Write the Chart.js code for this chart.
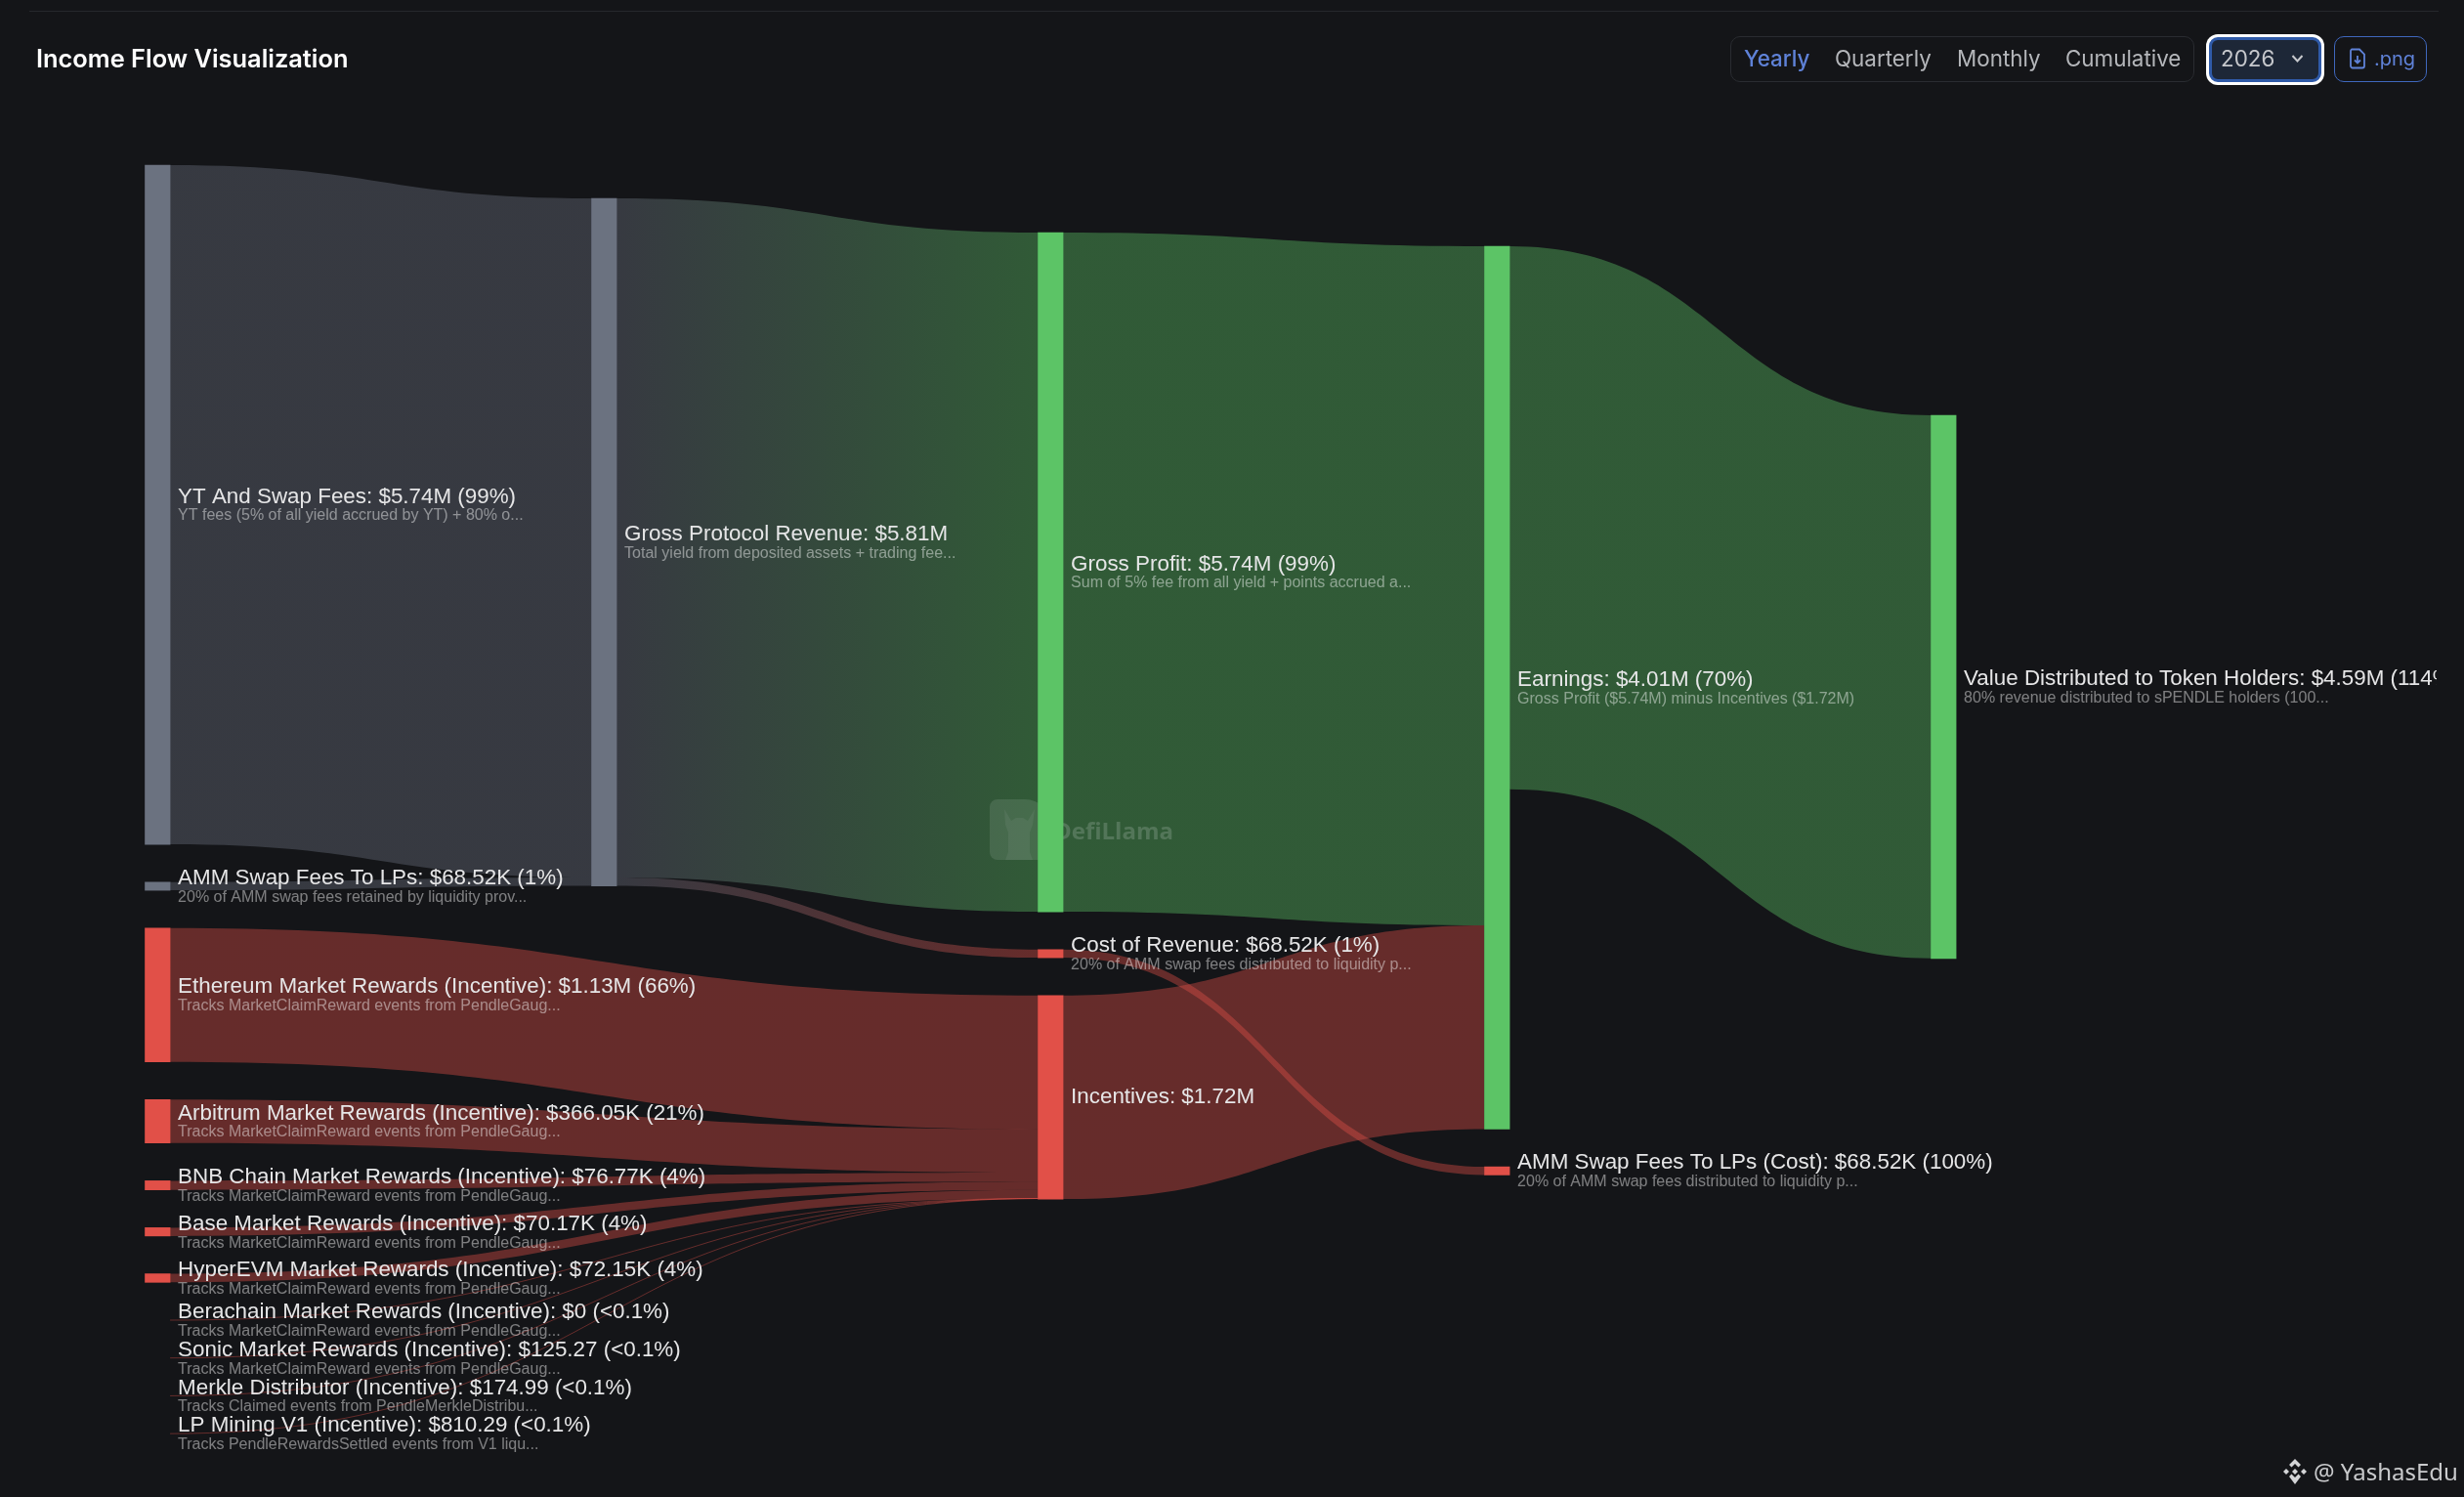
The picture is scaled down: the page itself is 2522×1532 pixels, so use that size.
<!DOCTYPE html>
<html lang="en">
<head>
<meta charset="utf-8">
<title>Income Flow Visualization</title>
<script src="https://cdn.jsdelivr.net/npm/chart.js@4"></script>
<style>
html,body{margin:0;padding:0;background:#141518;width:2522px;height:1532px;overflow:hidden}
#wrap{position:absolute;left:0;top:0;width:2494px;height:1532px}
.abs{position:absolute;white-space:nowrap;font-family:Inter,sans-serif}
#rule{left:30px;top:11px;width:2466px;height:1px;background:#26282c}
#title{left:37px;top:43px;font-size:25.4px;line-height:34px;font-weight:600;color:#fff}
#tabs{left:1771px;top:37px;width:473px;height:45px;border:1px solid #2a2c31;border-radius:10px}
.tab{top:43px;font-size:22.4px;line-height:34px;color:#b4b6ba}
#yr{left:2261px;top:38px;width:115px;height:46px;box-sizing:border-box;background:#1d2737;border-radius:9px;border:3px solid #2f5aa8;box-shadow:0 0 0 3px #fff}
#yrt{left:2273px;top:43px;font-size:22.4px;line-height:34px;color:#c6c8cc}
#png{left:2389px;top:37px;width:93px;height:45px;border:1px solid #3f67bd;border-radius:10px}
#pngt{left:2430px;top:43px;font-size:20px;line-height:34px;color:#5f82d8}
#yas{left:2368px;top:1486px;font-family:"Noto Sans",sans-serif;font-size:24px;line-height:40px;color:#c9cacc}
svg{position:absolute}
</style>
</head>
<body>
<div id="wrap"><canvas id="c" width="2494" height="1532" style="display:block"></canvas></div>
<div class="abs" id="rule"></div>
<div class="abs" id="title">Income Flow Visualization</div>
<div class="abs" id="tabs"></div>
<div class="abs tab" style="left:1785px;color:#5f82d8;font-weight:500">Yearly</div>
<div class="abs tab" style="left:1878px">Quarterly</div>
<div class="abs tab" style="left:2003px">Monthly</div>
<div class="abs tab" style="left:2114px">Cumulative</div>
<div class="abs" id="yr"></div>
<div class="abs" id="yrt">2026</div>
<svg style="left:2344px;top:53px" width="15" height="14" viewBox="0 0 15 14"><path d="M2.5 4 L7.5 9.5 L12.5 4" fill="none" stroke="#c6c8cc" stroke-width="2"/></svg>
<div class="abs" id="png"></div>
<svg style="left:2404px;top:49px" width="18" height="22" viewBox="0 0 18 22" fill="none" stroke="#5f82d8" stroke-width="1.8"><path d="M3 1.500h8l5 5v12a2 2 0 0 1-2 2H4a2 2 0 0 1-2-2v-15a2 2 0 0 1 1-2z"/><path d="M9 8v7M6 12.500l3 3 3-3"/></svg>
<div class="abs" id="pngt">.png</div>
<svg style="left:2335px;top:1493px" width="28" height="26" viewBox="0 0 28 26" fill="#d4d5d7"><path d="M14 0l6 6-2.500 2.500L14 5l-3.500 3.500L8 6z"/><path d="M5 10l3 3-3 3-3-3z"/><path d="M23 10l3 3-3 3-3-3z"/><path d="M14 10l3 3-3 3-3-3z"/><path d="M8 18l2.500-2.500L14 19l3.500-3.500L20 18l-6 8z"/></svg>
<div class="abs" id="yas">@ YashasEdu</div>

<script>
// ---- data ----
const columns = ["Revenue sources", "Revenue", "Gross profit", "Earnings", "Distribution"];

const nodeNames = [
  "YT And Swap Fees", "AMM Swap Fees To LPs", "Ethereum Market Rewards (Incentive)",
  "Arbitrum Market Rewards (Incentive)", "BNB Chain Market Rewards (Incentive)",
  "Base Market Rewards (Incentive)", "HyperEVM Market Rewards (Incentive)",
  "Berachain Market Rewards (Incentive)", "Sonic Market Rewards (Incentive)",
  "Merkle Distributor (Incentive)", "LP Mining V1 (Incentive)",
  "Gross Protocol Revenue", "Gross Profit", "Cost of Revenue", "Incentives",
  "Earnings", "AMM Swap Fees To LPs (Cost)", "Value Distributed to Token Holders"
];
const nodeColumn = [0,0,0,0,0,0,0,0,0,0,0, 1, 2,2,2, 3,3, 4];
const nodeValues = [
  5740000, 68520, 1130000, 366050, 76770, 70170, 72150, 0, 125.27, 174.99, 810.29,
  5810000, 5740000, 68520, 1720000,
  7460000, 68520, 4590000
];
const nodeValueText = [
  "$5.74M (99%)", "$68.52K (1%)", "$1.13M (66%)", "$366.05K (21%)", "$76.77K (4%)",
  "$70.17K (4%)", "$72.15K (4%)", "$0 (<0.1%)", "$125.27 (<0.1%)", "$174.99 (<0.1%)", "$810.29 (<0.1%)",
  "$5.81M", "$5.74M (99%)", "$68.52K (1%)", "$1.72M",
  "$4.01M (70%)", "$68.52K (100%)", "$4.59M (114%)"
];
const nodeNotes = [
  "YT fees (5% of all yield accrued by YT) + 80% o...",
  "20% of AMM swap fees retained by liquidity prov...",
  "Tracks MarketClaimReward events from PendleGaug...",
  "Tracks MarketClaimReward events from PendleGaug...",
  "Tracks MarketClaimReward events from PendleGaug...",
  "Tracks MarketClaimReward events from PendleGaug...",
  "Tracks MarketClaimReward events from PendleGaug...",
  "Tracks MarketClaimReward events from PendleGaug...",
  "Tracks MarketClaimReward events from PendleGaug...",
  "Tracks Claimed events from PendleMerkleDistribu...",
  "Tracks PendleRewardsSettled events from V1 liqu...",
  "Total yield from deposited assets + trading fee...",
  "Sum of 5% fee from all yield + points accrued a...",
  "20% of AMM swap fees distributed to liquidity p...",
  "",
  "Gross Profit ($5.74M) minus Incentives ($1.72M)",
  "20% of AMM swap fees distributed to liquidity p...",
  "80% revenue distributed to sPENDLE holders (100..."
];
const linkSource = [0,1, 2,3,4,5,6,7,8,9,10, 11,11, 12,14, 13, 15];
const linkTarget = [11,11, 14,14,14,14,14,14,14,14,14, 12,13, 15,15, 16, 17];
const linkValues = [
  5740000, 68520,
  1130000, 366050, 76770, 70170, 72150, 0, 125.27, 174.99, 810.29,
  5740000, 68520,
  5740000, 1720000, 68520, 4590000
];

// ---- styling and layout ----
const GRAY = [107,114,128], GREEN = [92,196,102], RED = [225,80,72];
const nodeColor = [GRAY,GRAY,RED,RED,RED,RED,RED,RED,RED,RED,RED, GRAY, GREEN,RED,RED, GREEN,RED, GREEN];
// colour at the end of each link (start colour is the source node)
const linkEnd = [GRAY,GRAY, RED,RED,RED,RED,RED,RED,RED,RED,RED, GREEN,RED, GREEN,RED, RED, GREEN];
const PX_PER_DOLLAR = 121.1 / 1e6;
const NODE_GAP = 38.7 / PX_PER_DOLLAR;
const COLUMN_OFFSET = [0, 34, 69, 83, 256].map(p => p / PX_PER_DOLLAR);
const NODE_W = 25.6, LINK_ALPHA = 0.4, INVISIBLE_BELOW = 1000;
const css = (c, a) => `rgba(${c[0]},${c[1]},${c[2]},${a})`;

// stack each column in value space
const nodeTop = [], nodeBottom = [];
columns.forEach((_, col) => {
  let y = COLUMN_OFFSET[col];
  nodeValues.forEach((v, i) => {
    if (nodeColumn[i] !== col) return;
    nodeTop[i] = y; nodeBottom[i] = y + v; y += v + NODE_GAP;
  });
});

const linkPlugin = {
  id: "links",
  beforeDatasetsDraw(chart) {
    const {ctx, scales:{x, y}} = chart;
    const outUsed = nodeValues.map(() => 0), inUsed = nodeValues.map(() => 0);
    linkValues.forEach((v, k) => {
      const s = linkSource[k], t = linkTarget[k];
      const x0 = x.getPixelForValue(nodeColumn[s]) + NODE_W/2;
      const x1 = x.getPixelForValue(nodeColumn[t]) - NODE_W/2;
      const mx = (x0 + x1) / 2;
      const a0 = y.getPixelForValue(nodeTop[s] + outUsed[s]);
      const a1 = y.getPixelForValue(nodeTop[s] + outUsed[s] + v);
      const b0 = y.getPixelForValue(nodeTop[t] + inUsed[t]);
      const b1 = y.getPixelForValue(nodeTop[t] + inUsed[t] + v);
      outUsed[s] += v; inUsed[t] += v;
      const g = ctx.createLinearGradient(x0, 0, x1, 0);
      g.addColorStop(0, css(nodeColor[s], LINK_ALPHA));
      g.addColorStop(1, css(linkEnd[k], LINK_ALPHA));
      ctx.save();
      ctx.beginPath();
      ctx.moveTo(x0, a0);
      ctx.bezierCurveTo(mx, a0, mx, b0, x1, b0);
      if (a1 - a0 < 1) {
        ctx.strokeStyle = g; ctx.lineWidth = 1; ctx.stroke();
      } else {
        ctx.lineTo(x1, b1);
        ctx.bezierCurveTo(mx, b1, mx, a1, x0, a1);
        ctx.closePath();
        ctx.fillStyle = g; ctx.fill();
      }
      ctx.restore();
    });
    // DefiLlama watermark: over the ribbons, under the nodes
    ctx.save();
    ctx.fillStyle = "rgba(255,255,255,0.11)";
    ctx.beginPath(); ctx.roundRect(1013, 818, 64, 62, [8, 28, 8, 8]); ctx.fill();
    ctx.fillStyle = "rgba(255,255,255,0.06)";
    ctx.fill(new Path2D("M1028 828l7 12 5-3 7 0 5 3 7-12-2 16-3 8v20l3 8h-28l3-8v-20l-3-8z"));
    ctx.fillStyle = "rgba(255,255,255,0.17)";
    ctx.font = "bold 24px 'Open Sans', sans-serif";
    ctx.textBaseline = "middle"; ctx.textAlign = "left";
    ctx.fillText("DefiLlama", 1079, 852);
    ctx.restore();
  },
  afterDatasetsDraw(chart) {
    const {ctx, scales:{x, y}} = chart;
    ctx.save();
    ctx.textBaseline = "middle"; ctx.textAlign = "left";
    nodeNames.forEach((name, i) => {
      const lx = x.getPixelForValue(nodeColumn[i]) + NODE_W/2 + 8;
      const cy = y.getPixelForValue((nodeTop[i] + nodeBottom[i]) / 2);
      const note = nodeNotes[i];
      ctx.font = "22.4px 'Liberation Sans', Arial, sans-serif";
      ctx.fillStyle = "#e6e6e7";
      ctx.fillText(name + ": " + nodeValueText[i], lx, note ? cy - 8 : cy);
      if (note) {
        ctx.font = "16px 'Liberation Sans', Arial, sans-serif";
        ctx.fillStyle = "rgba(255,255,255,0.45)";
        ctx.fillText(note, lx, cy + 11.5);
      }
    });
    ctx.restore();
  }
};

const W = 2494, H = 1532, TOP = 169, BOTTOM = 1467.5;
const datasets = nodeNames.map((name, i) => ({
  label: name,
  data: columns.map((_, c) => c === nodeColumn[i] ? [nodeTop[i], nodeBottom[i]] : null),
  backgroundColor: css(nodeColor[i], nodeValues[i] < INVISIBLE_BELOW ? 0 : 1),
  borderWidth: 0,
  borderSkipped: false,
  barThickness: NODE_W,
  grouped: false,
  clip: false
}));

new Chart(document.getElementById("c"), {
  type: "bar",
  data: { labels: columns, datasets },
  options: {
    responsive: false,
    devicePixelRatio: 1,
    animation: false,
    layout: { padding: { left: 161.3, right: W - 1989.3, top: TOP, bottom: H - BOTTOM } },
    plugins: { legend: { display: false }, tooltip: { enabled: false }, title: { display: false } },
    scales: {
      x: { type: "category", offset: false, display: false },
      y: { type: "linear", reverse: true, display: false, min: 0, max: (BOTTOM - TOP) / PX_PER_DOLLAR }
    }
  },
  plugins: [linkPlugin]
});
</script>
</body>
</html>
